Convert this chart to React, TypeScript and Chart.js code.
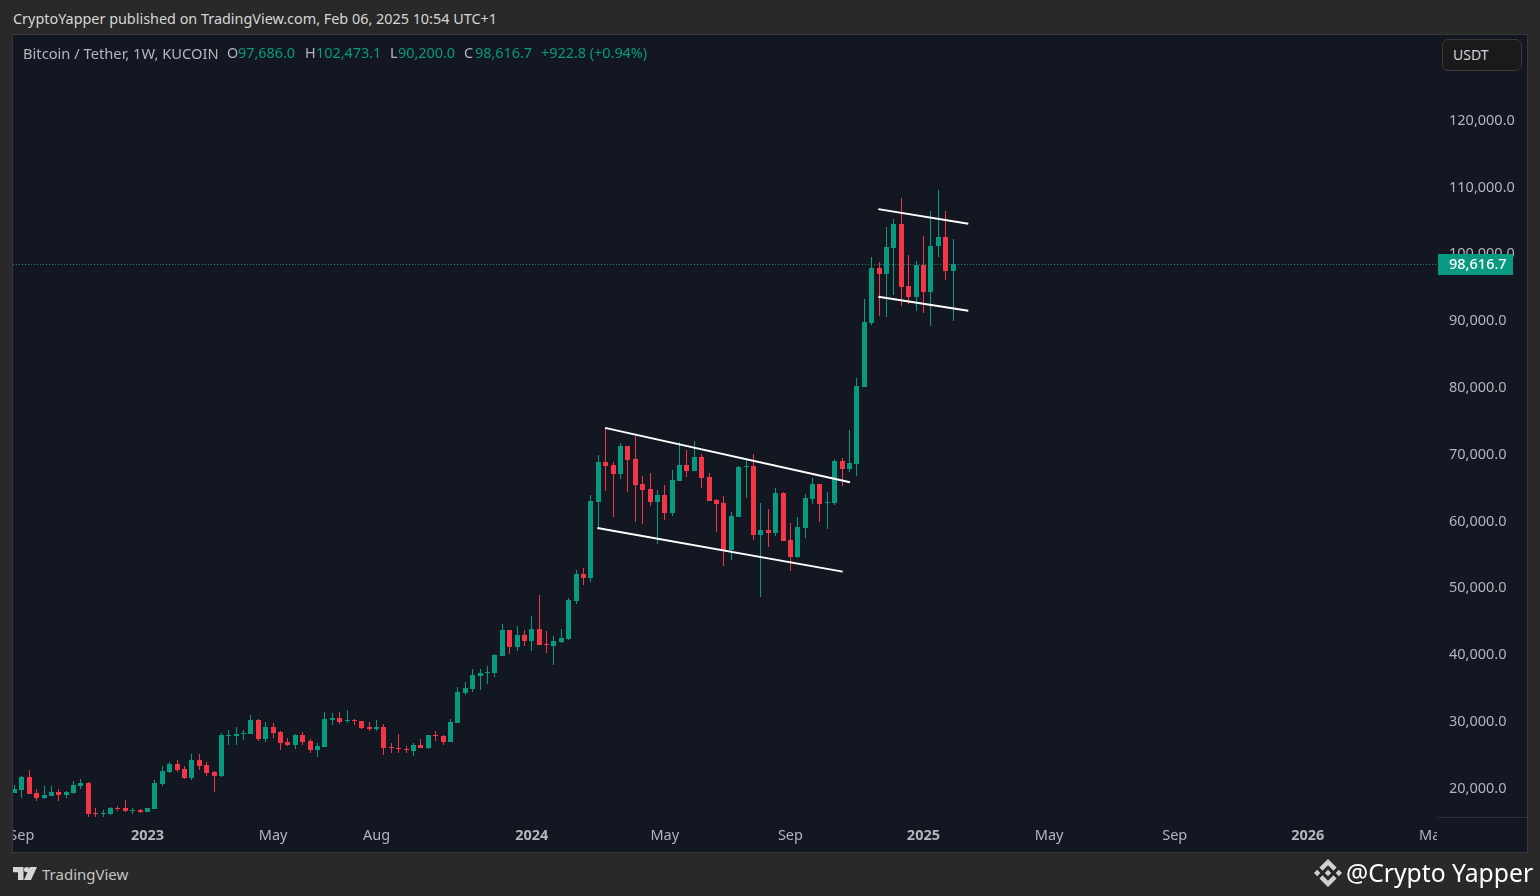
import { useEffect, useRef } from "react";
import Chart from "chart.js/auto";

// weekly candles, week number counted from the first week of 2023
const firstWeek = -18;

const opens = [
  19490, 19930, 21880, 19490, 18740, 19040, 19640, 19190, 19490, 20530,
  20980, 16490, 16390, 16340, 17240, 17240, 16840, 16940, 16640, 17090,
  20830, 22630, 23830, 23080, 21730, 24430, 23680, 22630, 22030, 28070,
  28020, 28420, 28320, 30420, 27570, 29370, 28620, 27120, 26670, 28170,
  27270, 25920, 26370, 30420, 30720, 30320, 30470, 30270, 29370, 29070,
  29370, 26370, 26270, 26120, 25780, 26670, 26220, 28170, 28020, 27120,
  29970, 34460, 35060, 37010, 37510, 37460, 40000, 43900, 41350, 43150,
  42250, 44040, 41750, 41500, 42100, 42550, 48240, 52280, 51680, 63060,
  69050, 68600, 67260, 71450, 69500, 65760, 65010, 63060, 64110, 61420,
  66210, 68600, 67710, 69800, 66810, 63360, 62910, 55870, 60820, 68350,
  68450, 58120, 58870, 58420, 64410, 57370, 54830, 59170, 63510, 65760,
  62960, 62910, 69200, 68010, 68750, 80280, 89870, 98100, 97210, 101100,
  104690, 95410, 93760, 98550, 94510, 101400, 102750, 97686,
];
const highs = [
  20680, 22030, 22930, 20080, 20530, 20530, 20080, 19790, 21280, 21580,
  21130, 17240, 16940, 17390, 17540, 18440, 17240, 17090, 17240, 21430,
  23530, 24130, 24430, 23530, 25330, 25330, 24130, 22780, 28470, 28920,
  29370, 28920, 31170, 30570, 30120, 29970, 28770, 27720, 28320, 28620,
  27570, 26970, 31620, 31470, 31620, 31920, 30570, 30270, 30120, 30420,
  29820, 26970, 28320, 26520, 26970, 27570, 28170, 28770, 28170, 30570,
  35360, 36110, 38060, 38060, 38500, 40300, 44790, 43900, 44490, 43900,
  45990, 49140, 43750, 43000, 44040, 48690, 52880, 53180, 64110, 70100,
  74000, 69050, 71900, 71450, 72950, 66960, 67410, 64860, 65610, 67860,
  72050, 70850, 72200, 70250, 67410, 63510, 63960, 61570, 68450, 69650,
  70250, 62910, 62020, 65160, 64560, 59920, 60820, 64260, 66660, 65760,
  64560, 69500, 69650, 73850, 81630, 93460, 99750, 99000, 104240, 105440,
  108590, 100050, 99150, 102900, 106640, 109790, 106640, 102473.1,
];
const lows = [
  19490, 18740, 19340, 18290, 18590, 19040, 18290, 18740, 19340, 20080,
  15890, 15890, 15890, 16190, 16790, 16640, 16340, 16490, 16640, 17090,
  20530, 22480, 22630, 21580, 21430, 22930, 22030, 19640, 21880, 26670,
  26670, 27420, 28320, 27270, 27120, 27720, 25930, 26520, 26080, 26670,
  25480, 24880, 26370, 29670, 29820, 29970, 29670, 29070, 28770, 28770,
  25180, 25480, 25480, 25480, 25030, 26220, 26070, 27270, 26670, 27120,
  29970, 34160, 34610, 34910, 35810, 36860, 40000, 40300, 40750, 41500,
  40750, 41650, 40450, 38650, 41950, 42400, 47790, 50630, 51080, 59170,
  64710, 60820, 66510, 64560, 60070, 59770, 62460, 56770, 60370, 60970,
  66210, 66810, 67710, 65160, 63210, 58570, 53480, 54380, 60820, 63660,
  57370, 48840, 56320, 57970, 57220, 52730, 54680, 57670, 62760, 60070,
  59020, 62610, 65460, 67560, 66960, 80280, 89570, 90920, 90770, 94060,
  92410, 92710, 91660, 91370, 89420, 99750, 96310, 90200,
];
const closes = [
  20080, 21880, 19340, 18740, 19190, 19640, 19190, 19640, 20680, 20980,
  16340, 16390, 16490, 17240, 17140, 16790, 16940, 16640, 17240, 20980,
  22780, 23830, 22930, 21730, 24430, 23530, 22480, 22030, 28170, 28170,
  28320, 28520, 30420, 27570, 29370, 28470, 26970, 26670, 28170, 27120,
  25920, 26520, 30570, 30720, 30120, 30420, 30370, 29220, 29070, 29370,
  26220, 26270, 26170, 26020, 26670, 26220, 28170, 28070, 27120, 30120,
  34610, 35210, 37160, 37460, 37610, 40150, 43900, 41350, 43150, 42250,
  44040, 41650, 41650, 42250, 42700, 48390, 52280, 51680, 63210, 69050,
  68450, 67260, 71450, 69350, 65610, 64860, 63060, 64110, 61420, 66360,
  68600, 67710, 69800, 66660, 63210, 62760, 55870, 60970, 68300, 68450,
  58120, 58870, 58420, 64410, 57220, 54830, 59320, 63660, 65760, 62760,
  63060, 69200, 68010, 68900, 80430, 90020, 98100, 97210, 101250, 104690,
  95260, 93760, 98550, 94510, 101400, 102750, 97660, 98616.7,
];

// hand drawn channel lines: [week, price] at each end
const channelLines = [
  [[61.91, 74150], [95.06, 66020]],
  [[60.87, 59170], [94.07, 52630]],
  [[98.89, 106900], [111.07, 104700]],
  [[98.89, 93770], [111.07, 91670]],
];

const lastPrice = 98616.7;
const priceTicks = [20000, 30000, 40000, 50000, 60000, 70000, 80000, 90000, 100000, 110000, 120000];
const timeTickWeeks = [-17, 0, 17, 31, 52, 70, 87, 105, 122, 139, 157, 174];
const timeTickLabels = ["Sep", "2023", "May", "Aug", "2024", "May", "Sep", "2025", "May", "Sep", "2026", "May"];
const yearTicks = ["2023", "2024", "2025", "2026"];

const UP = "#089981";
const DOWN = "#F23645";
const FONT = "'Noto Sans', sans-serif";

const priceMin = 15895;
const priceMax = 132970;
// the price labels sit a little above their true level in the original
const labelShift = 150;

const candleColors = opens.map((o, i) => (closes[i] >= o ? UP : DOWN));

// keeps the candles on whole pixels, the way the original looks
const snapCandles = {
  id: "snapCandles",
  afterDatasetsUpdate(chart: any) {
    chart.data.datasets.forEach((ds: any, i: number) => {
      if (!ds.candlePart) return;
      chart.getDatasetMeta(i).data.forEach((el: any) => {
        el.x = Math.floor(el.x) + 0.5;
        el.y = Math.round(el.y);
        el.base = Math.round(el.base);
        if (el.y === el.base) el.base = el.y + 1;
      });
    });
  },
};

const lastPriceTag = {
  id: "lastPriceTag",
  afterDraw(chart: any) {
    const { ctx, scales } = chart;
    const y = scales.y.getPixelForValue(lastPrice);
    ctx.save();
    ctx.fillStyle = UP;
    ctx.fillRect(1425, Math.round(y) - 10, 75, 21);
    ctx.fillStyle = "#ffffff";
    ctx.font = `500 14.5px ${FONT}`;
    ctx.textBaseline = "middle";
    ctx.fillText(lastPrice.toLocaleString("en-US", { minimumFractionDigits: 1 }), 1436, Math.round(y) + 1);
    ctx.restore();
  },
};

export default function App() {
  const canvas = useRef<HTMLCanvasElement>(null);

  useEffect(() => {
    const weeks = opens.map((_, i) => firstWeek + i);
    const chart = new Chart(canvas.current as any, {
      type: "bar",
      data: {
        datasets: [
          {
            type: "line",
            data: [{ x: -19, y: lastPrice }, { x: 175, y: lastPrice }],
            borderColor: UP,
            borderWidth: 1,
            borderDash: [1, 2],
            pointRadius: 0,
            order: 4,
          },
          {
            candlePart: true,
            data: weeks.map((x, i) => ({ x, y: [lows[i], highs[i]] })),
            backgroundColor: candleColors,
            barThickness: 1,
            inflateAmount: 0,
            grouped: false,
            order: 3,
          },
          {
            candlePart: true,
            data: weeks.map((x, i) => ({ x, y: [opens[i], closes[i]] })),
            backgroundColor: candleColors,
            barThickness: 5,
            inflateAmount: 0,
            grouped: false,
            order: 2,
          },
          ...channelLines.map((line) => ({
            type: "line",
            data: line.map(([x, y]) => ({ x, y })),
            borderColor: "#ffffff",
            borderWidth: 2,
            pointRadius: 0,
            order: 1,
          })),
        ] as any,
      },
      options: {
        animation: false,
        responsive: false,
        layout: { autoPadding: false },
        plugins: { legend: { display: false }, tooltip: { enabled: false } },
        scales: {
          x: {
            type: "linear",
            min: -18.2,
            max: 174.49,
            offset: false,
            grid: { display: false },
            border: { display: false },
            afterBuildTicks: (s: any) => {
              s.ticks = timeTickWeeks.map((value) => ({ value }));
            },
            afterFit: (s: any) => {
              s.height = 35;
              s.paddingLeft = 0;
              s.paddingRight = 0;
            },
            ticks: {
              autoSkip: false,
              maxRotation: 0,
              padding: 2,
              color: "#b2b5be",
              font: (c: any) => ({
                family: FONT,
                size: 14.5,
                weight: yearTicks.includes(timeTickLabels[timeTickWeeks.indexOf(c.tick?.value)]) ? "bold" : "normal",
              }),
              callback: (v: any) => timeTickLabels[timeTickWeeks.indexOf(v)],
            },
          },
          y: {
            display: false,
            position: "right",
            min: priceMin,
            max: priceMax,
          },
          priceLabels: {
            position: "right",
            min: priceMin - labelShift,
            max: priceMax - labelShift,
            grid: { display: false, drawTicks: false },
            border: { display: false },
            afterBuildTicks: (s: any) => {
              s.ticks = priceTicks.map((value) => ({ value }));
            },
            afterFit: (s: any) => {
              s.width = 90;
              s.paddingTop = 0;
              s.paddingBottom = 0;
            },
            ticks: {
              autoSkip: false,
              padding: 12,
              color: "#b2b5be",
              font: { family: FONT, size: 14.5 },
              callback: (v: any) => Number(v).toLocaleString("en-US", { minimumFractionDigits: 1 }),
            },
          },
        },
      } as any,
      plugins: [snapCandles, lastPriceTag],
    });
    return () => {
      chart.destroy();
    };
  }, []);

  const at = (left: number, top: number, color: string, text: string, size = 14.4) => (
    <span style={{ position: "absolute", left, top, color, fontSize: size, lineHeight: "20px", whiteSpace: "nowrap" }}>{text}</span>
  );

  return (
    <div style={{ position: "absolute", left: 0, top: 0, width: 1540, height: 896, background: "#292929", overflow: "hidden", fontFamily: FONT }}>
      {at(13, 9, "#d6d6d6", "CryptoYapper published on TradingView.com, Feb 06, 2025 10:54 UTC+1")}

      <div style={{ position: "absolute", left: 12, top: 34, width: 1514, height: 817, border: "1px solid #383838", background: "#131722" }} />
      <canvas ref={canvas} width={1514} height={817} style={{ position: "absolute", left: 13, top: 35, width: 1514, height: 817 }} />
      <div style={{ position: "absolute", left: 1437, top: 817, width: 90, height: 35, background: "#131722", borderTop: "1px solid #2a2e39", boxSizing: "border-box" }} />

      {at(23, 43, "#b2b5be", "Bitcoin / Tether, 1W, KUCOIN", 14.7)}
      {at(227, 43, "#b2b5be", "O")}
      {at(238, 43, UP, "97,686.0")}
      {at(305, 43, "#b2b5be", "H")}
      {at(316, 43, UP, "102,473.1")}
      {at(390, 43, "#b2b5be", "L")}
      {at(398, 43, UP, "90,200.0")}
      {at(464, 43, "#b2b5be", "C")}
      {at(475, 43, UP, "98,616.7")}
      {at(541, 43, UP, "+922.8 (+0.94%)")}

      <div style={{ position: "absolute", left: 1442, top: 39, width: 80, height: 32, boxSizing: "border-box", border: "1px solid #3a3a3a", borderRadius: 6, background: "#1a1a1a" }} />
      {at(1453, 45, "#d1d4dc", "USDT", 14)}

      <svg style={{ position: "absolute", left: 13, top: 867 }} width="24" height="13" viewBox="0 0 24 13">
        <path d="M0 0H10.5V13H5V5.2H0Z M11 13L16.8 0H24L18 13Z" fill="#d6d6d6" />
        <circle cx="13.6" cy="2.6" r="2.6" fill="#d6d6d6" />
      </svg>
      {at(42, 864, "#c4c4c4", "TradingView", 15)}

      <svg style={{ position: "absolute", left: 1314, top: 859 }} width="28" height="28" viewBox="0 0 126.61 126.61">
        <path fill="#d0d0d0" d="M38.73 53.2l24.59-24.58 24.6 24.6 14.3-14.31L63.32 0 24.43 38.9z M0 63.31l14.3-14.31 14.31 14.31-14.31 14.3z M38.73 73.41l24.59 24.59 24.6-24.6 14.31 14.29-.01.01-38.9 38.91L24.43 87.7z M98.03 63.31l14.3-14.31 14.31 14.31-14.31 14.3z M77.83 63.3l-14.51-14.52-10.73 10.73-1.24 1.23-2.54 2.54 14.51 14.5 14.51-14.47z" />
      </svg>
      <span style={{ position: "absolute", left: 1346, top: 856, color: "#ffffff", fontSize: 24.7, lineHeight: "34px", whiteSpace: "nowrap" }}>@Crypto Yapper</span>
    </div>
  );
}
